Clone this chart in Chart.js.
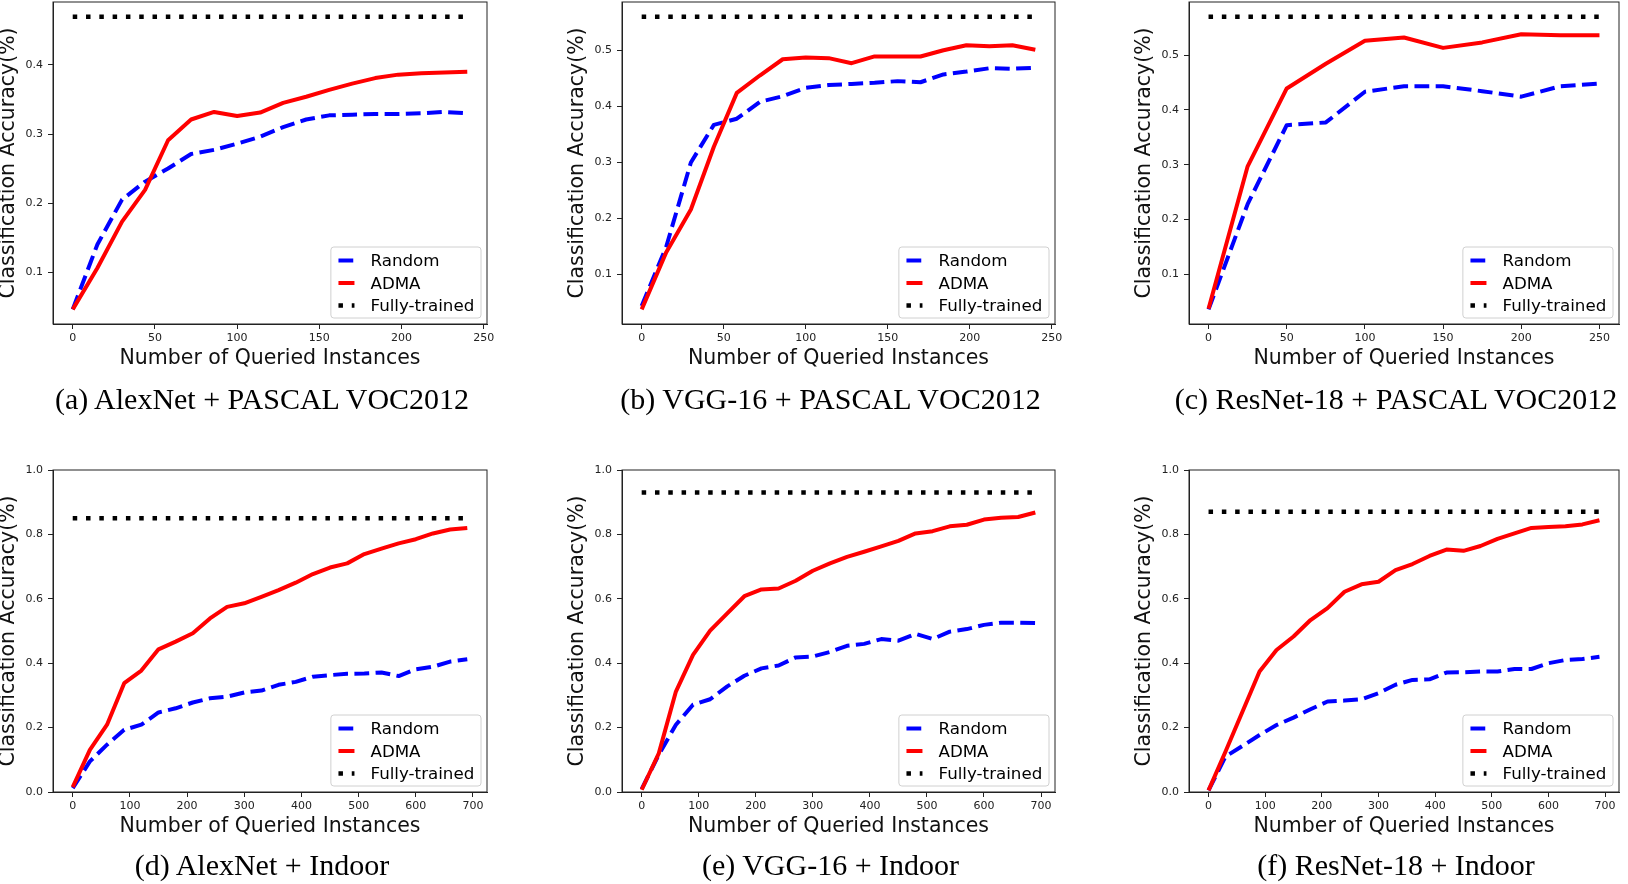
<!DOCTYPE html>
<html>
<head>
<meta charset="utf-8">
<script src="https://cdn.jsdelivr.net/npm/chart.js@4.4.1/dist/chart.umd.min.js"></script>
<style>
  html, body { margin: 0; padding: 0; background: #fff; }
  body { width: 1628px; height: 884px; position: relative; overflow: hidden; }
  canvas { position: absolute; }
  .caption {
    position: absolute; width: 600px; height: 30px; line-height: 30px;
    text-align: center; white-space: nowrap;
    font-family: "Liberation Serif", "DejaVu Serif", serif; font-size: 30px; color: #000;
  }
</style>
</head>
<body>
<script>
// x positions (number of queried instances)
const xVoc = [0, 15, 30, 44, 58, 72, 86, 100, 114, 128, 142, 156, 170, 184, 198, 212, 226, 240];
const xVocRes = [0, 25, 50, 75, 100, 125, 150, 175, 200, 225, 250];
const xIndoor = [0, 30, 60, 90, 120, 150, 180, 210, 240, 270, 300, 330, 360, 390, 420, 450, 480, 510, 540, 570, 600, 630, 660, 690];

// PASCAL VOC2012
const alexVocRandom = [0.046, 0.140, 0.205, 0.231, 0.250, 0.271, 0.277, 0.286, 0.296, 0.310, 0.321, 0.327, 0.328, 0.329, 0.329, 0.330, 0.332, 0.330];
const alexVocAdma   = [0.046, 0.106, 0.173, 0.219, 0.291, 0.321, 0.332, 0.326, 0.331, 0.345, 0.354, 0.364, 0.373, 0.381, 0.386, 0.388, 0.389, 0.390];
const vggVocRandom  = [0.044, 0.150, 0.300, 0.367, 0.378, 0.408, 0.418, 0.433, 0.438, 0.440, 0.442, 0.445, 0.443, 0.457, 0.462, 0.468, 0.467, 0.469];
const vggVocAdma    = [0.038, 0.140, 0.216, 0.328, 0.424, 0.455, 0.484, 0.487, 0.486, 0.477, 0.489, 0.489, 0.489, 0.500, 0.509, 0.507, 0.509, 0.501];
const resVocRandom  = [0.036, 0.228, 0.372, 0.377, 0.433, 0.443, 0.443, 0.434, 0.424, 0.443, 0.448];
const resVocAdma    = [0.037, 0.297, 0.439, 0.484, 0.526, 0.532, 0.513, 0.523, 0.538, 0.536, 0.536];

// Indoor
const alexIndoorRandom = [0.012, 0.095, 0.147, 0.193, 0.209, 0.247, 0.260, 0.278, 0.291, 0.296, 0.309, 0.315, 0.333, 0.342, 0.358, 0.363, 0.367, 0.368, 0.371, 0.360, 0.381, 0.389, 0.405, 0.412];
const alexIndoorAdma   = [0.015, 0.131, 0.209, 0.338, 0.377, 0.443, 0.467, 0.493, 0.539, 0.575, 0.586, 0.606, 0.627, 0.650, 0.677, 0.697, 0.710, 0.739, 0.756, 0.772, 0.785, 0.803, 0.815, 0.820];
const vggIndoorRandom  = [0.009, 0.116, 0.209, 0.271, 0.288, 0.328, 0.361, 0.384, 0.393, 0.418, 0.421, 0.435, 0.454, 0.460, 0.475, 0.470, 0.491, 0.475, 0.498, 0.506, 0.519, 0.526, 0.526, 0.525];
const vggIndoorAdma    = [0.007, 0.120, 0.312, 0.426, 0.501, 0.555, 0.608, 0.629, 0.632, 0.656, 0.687, 0.710, 0.730, 0.746, 0.763, 0.780, 0.803, 0.810, 0.825, 0.830, 0.846, 0.852, 0.854, 0.868];
const resIndoorRandom  = [0.005, 0.110, 0.143, 0.177, 0.208, 0.231, 0.257, 0.281, 0.284, 0.288, 0.307, 0.333, 0.348, 0.350, 0.371, 0.372, 0.374, 0.374, 0.382, 0.382, 0.400, 0.410, 0.413, 0.420];
const resIndoorAdma    = [0.005, 0.126, 0.250, 0.374, 0.441, 0.483, 0.534, 0.571, 0.622, 0.645, 0.653, 0.689, 0.708, 0.733, 0.753, 0.749, 0.764, 0.786, 0.803, 0.820, 0.823, 0.825, 0.831, 0.844];

// fully-trained accuracy for a..f
const fullyTrained = [0.47, 0.56, 0.57, 0.85, 0.93, 0.87];

// tick labels
const xTicksVoc = [0, 50, 100, 150, 200, 250];
const xTicksIndoor = [0, 100, 200, 300, 400, 500, 600, 700];
const yTicksVoc = [0.1, 0.2, 0.3, 0.4, 0.5];
const yTicksIndoor = [0.0, 0.2, 0.4, 0.6, 0.8, 1.0];

const captions = [
  '(a) AlexNet + PASCAL VOC2012', '(b) VGG-16 + PASCAL VOC2012', '(c) ResNet-18 + PASCAL VOC2012',
  '(d) AlexNet + Indoor', '(e) VGG-16 + Indoor', '(f) ResNet-18 + Indoor'
];

// plot area boxes in page pixels
const cols = [{l: 53, r: 487}, {l: 622, r: 1055}, {l: 1189, r: 1619}];
const rows = [{t: 2, b: 324, cap: 383.5}, {t: 470, b: 792, cap: 850}];
const AXW = 60, AXH = 60, PAD = 10;

// top/right spines
const frame = {
  id: 'frame',
  afterDatasetsDraw(chart) {
    const {ctx, chartArea: {left, top, right, bottom}} = chart;
    ctx.save();
    ctx.strokeStyle = '#222';
    ctx.lineWidth = 1;
    ctx.strokeRect(left, top, right - left, bottom - top);
    ctx.restore();
  }
};

// matplotlib-like legend in lower right
const legendBox = {
  id: 'legendBox',
  afterDraw(chart) {
    const {ctx, chartArea: {right, bottom}} = chart;
    const items = chart.data.datasets.slice().sort((a, b) => a.legendIndex - b.legendIndex);
    ctx.save();
    ctx.font = '16.7px "DejaVu Sans"';
    const textW = Math.max(...items.map(d => ctx.measureText(d.label).width));
    const w = 7.6 + 16 + 16 + textW + 6.7;
    const h = 71;
    const x0 = right - 6 - w, y0 = bottom - 6 - h;
    ctx.fillStyle = 'rgba(255,255,255,0.8)';
    ctx.strokeStyle = '#d0d0d0';
    ctx.lineWidth = 1;
    ctx.beginPath();
    ctx.roundRect(x0, y0, w, h, 3);
    ctx.fill();
    ctx.stroke();
    items.forEach((d, i) => {
      const cy = y0 + 13.5 + 22.5 * i;
      ctx.strokeStyle = d.borderColor;
      ctx.lineWidth = d.borderWidth;
      ctx.setLineDash(d.borderDash || []);
      ctx.beginPath();
      ctx.moveTo(x0 + 7.6, cy);
      ctx.lineTo(x0 + 23.6, cy);
      ctx.stroke();
      ctx.setLineDash([]);
      ctx.fillStyle = '#000';
      ctx.textBaseline = 'alphabetic';
      ctx.fillText(d.label, x0 + 39.6, cy + 5.8);
    });
    ctx.restore();
  }
};

function pts(xs, ys) {
  return xs.map((x, i) => ({x: x, y: ys[i]}));
}

function makePanel(idx, xs, random, adma, full, xTicks, yTicks, yFixed) {
  const col = cols[idx % 3], row = rows[Math.floor(idx / 3)];
  const cw = col.r - col.l + AXW + PAD, ch = row.b - row.t + AXH + PAD;
  const canvas = document.createElement('canvas');
  canvas.width = cw; canvas.height = ch;
  canvas.style.width = cw + 'px'; canvas.style.height = ch + 'px';
  canvas.style.left = (col.l - AXW) + 'px';
  canvas.style.top = (row.t - PAD) + 'px';
  document.body.appendChild(canvas);

  // axis limits with 5% margins (matplotlib autoscale)
  const xmin = Math.min(...xs), xmax = Math.max(...xs);
  const xm = (xmax - xmin) * 0.05;
  let ymin, ymax;
  if (yFixed) { [ymin, ymax] = yFixed; }
  else {
    const lo = Math.min(...random, ...adma), hi = Math.max(...random, ...adma, full);
    const ym = (hi - lo) * 0.05;
    ymin = lo - ym; ymax = hi + ym;
  }

  const tickFont = {family: 'DejaVu Sans', size: 11};
  const titleFont = {family: 'DejaVu Sans', size: 20.5};

  new Chart(canvas, {
    type: 'line',
    data: {
      datasets: [
        {label: 'Random', data: pts(xs, random), borderColor: '#0000ff', borderWidth: 4,
         borderDash: [14.8, 6.4], order: 3, legendIndex: 0},
        {label: 'ADMA', data: pts(xs, adma), borderColor: '#ff0000', borderWidth: 4,
         order: 2, legendIndex: 1},
        {label: 'Fully-trained', data: [{x: xmin, y: full}, {x: xmax, y: full}], borderColor: '#000',
         borderWidth: 4.5, borderDash: [4.5, 8.8], order: 1, legendIndex: 2}
      ]
    },
    options: {
      responsive: false,
      animation: false,
      events: [],
      layout: {padding: {top: PAD, right: PAD, left: 0, bottom: 0}},
      elements: {
        point: {radius: 0},
        line: {tension: 0, fill: false, borderJoinStyle: 'round', borderCapStyle: 'butt'}
      },
      plugins: {legend: {display: false}, tooltip: {enabled: false}},
      scales: {
        x: {
          type: 'linear', min: xmin - xm, max: xmax + xm,
          afterBuildTicks: a => { a.ticks = xTicks.filter(v => v >= a.min && v <= a.max).map(v => ({value: v})); },
          afterFit: a => { a.height = AXH; a.paddingLeft = 0; a.paddingRight = 0; },
          grid: {drawOnChartArea: false, drawTicks: true, tickLength: 5, color: '#222'},
          border: {display: true, color: '#222', width: 1},
          ticks: {font: tickFont, color: '#222', padding: 3, autoSkip: false, maxRotation: 0,
                  callback: v => String(v)},
          title: {display: true, text: 'Number of Queried Instances', font: titleFont, color: '#111',
                  padding: {top: 0, bottom: 12.7}}
        },
        y: {
          type: 'linear', min: ymin, max: ymax,
          afterBuildTicks: a => { a.ticks = yTicks.filter(v => v >= a.min - 1e-9 && v <= a.max + 1e-9).map(v => ({value: v})); },
          afterFit: a => { a.width = AXW; a.paddingTop = 0; a.paddingBottom = 0; },
          grid: {drawOnChartArea: false, drawTicks: true, tickLength: 5, color: '#222'},
          border: {display: true, color: '#222', width: 1},
          ticks: {font: tickFont, color: '#222', padding: 5, callback: v => v.toFixed(1)},
          title: {display: true, text: 'Classification Accuracy(%)', font: titleFont, color: '#111',
                  padding: {top: 3.2, bottom: 0}}
        }
      }
    },
    plugins: [frame, legendBox]
  });

  const cap = document.createElement('div');
  cap.className = 'caption';
  cap.textContent = captions[idx];
  cap.style.left = ((col.l + col.r) / 2 - 8 - 300) + 'px';
  cap.style.top = row.cap + 'px';
  document.body.appendChild(cap);
}

makePanel(0, xVoc, alexVocRandom, alexVocAdma, fullyTrained[0], xTicksVoc, yTicksVoc);
makePanel(1, xVoc, vggVocRandom, vggVocAdma, fullyTrained[1], xTicksVoc, yTicksVoc);
makePanel(2, xVocRes, resVocRandom, resVocAdma, fullyTrained[2], xTicksVoc, yTicksVoc);
makePanel(3, xIndoor, alexIndoorRandom, alexIndoorAdma, fullyTrained[3], xTicksIndoor, yTicksIndoor, [0, 1]);
makePanel(4, xIndoor, vggIndoorRandom, vggIndoorAdma, fullyTrained[4], xTicksIndoor, yTicksIndoor, [0, 1]);
makePanel(5, xIndoor, resIndoorRandom, resIndoorAdma, fullyTrained[5], xTicksIndoor, yTicksIndoor, [0, 1]);
</script>
</body>
</html>
